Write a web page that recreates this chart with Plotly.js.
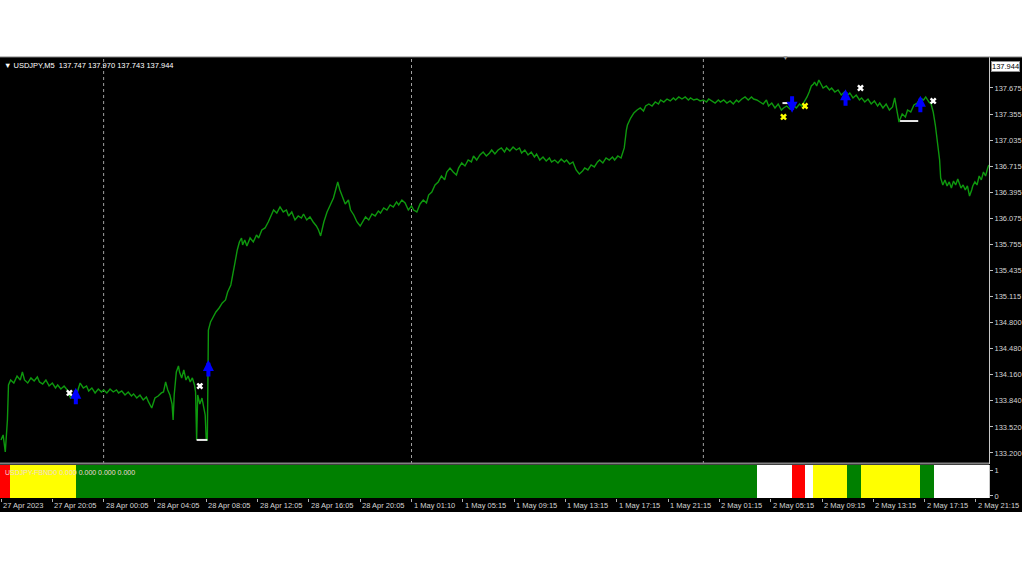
<!DOCTYPE html>
<html><head><meta charset="utf-8">
<script src="https://cdn.plot.ly/plotly-3.0.1.min.js"></script>
<style>html,body{margin:0;padding:0;background:#fff;}#chart{width:1024px;height:576px;}</style>
</head><body><div id="chart"></div>
<script>
// ---- data (5-minute bar index, price) ----
const barIdx = [0,2,4,6,7,9,12,15,18,20,22,25,28,31,34,36,39,42,45,48,51,53,56,59,62,65,67,70,72,74,77,80,82,85,88,91,94,96,99,102,105,108,110,113,116,119,122,124,127,130,133,136,138,141,144,147,150,152,154,156,158,160,161,162,164,166,167,169,171,173,175,177,179,181,182,183,184,186,188,190,191,192,193,194,
196,198,201,204,207,210,212,215,217,219,221,223,225,226,228,230,233,236,239,241,244,247,250,253,255,258,261,264,267,269,272,275,278,281,283,286,289,292,295,297,299,302,305,308,311,313,315,317,319,322,325,327,330,333,336,339,341,344,347,350,353,355,358,361,364,367,370,372,375,378,381,384,386,389,392,395,398,400,403,406,409,412,415,417,420,423,426,428,431,434,437,440,442,445,448,451,454,457,459,462,465,468,471,473,476,479,482,485,487,490,493,496,499,501,504,507,510,513,515,518,521,524,527,529,532,535,538,541,544,546,549,552,555,558,560,563,566,569,572,574,577,580,583,585,586,589,592,595,598,601,603,606,609,612,615,617,620,623,626,629,631,634,637,640,643,645,648,651,654,657,660,662,665,668,671,673,676,679,682,685,688,690,693,696,699,702,704,707,710,713,716,718,721,724,727,730,732,735,738,741,744,747,749,752,754,756,758,760,761,763,765,767,769,772,775,777,780,783,786,789,791,794,797,800,803,805,808,811,814,817,820,822,825,828,831,834,836,838,840,843,846,848,851,854,857,860,863,865,868,870,872,874,876,878,879,881,883,885,887,889,891,893,895,897,898,900,902,904,906,908,909,911,913,915,917,919,921,923,924];
const closePx = [133.360,133.421,133.212,133.605,134.034,134.095,134.058,134.144,134.095,134.193,134.095,134.058,134.120,134.083,134.132,134.071,134.046,134.095,134.022,134.058,133.997,134.034,133.985,134.022,133.973,133.874,133.899,133.850,133.973,134.058,133.997,134.022,133.960,133.997,133.936,133.985,133.948,133.973,133.936,133.985,133.948,133.973,133.936,133.960,133.911,133.948,133.899,133.924,133.874,133.911,133.850,133.887,133.826,133.752,133.874,133.899,133.936,133.948,134.071,133.973,133.911,133.801,133.605,133.911,134.193,134.267,134.193,134.120,134.218,134.095,134.144,134.071,134.120,134.034,133.948,133.360,133.911,133.801,133.874,133.703,133.666,133.360,133.360,134.708,
134.806,134.855,134.929,134.978,135.039,135.076,135.174,135.260,135.383,135.542,135.689,135.787,135.836,135.750,135.812,135.738,135.836,135.787,135.873,135.836,135.934,135.959,136.032,136.118,136.179,136.142,136.216,136.155,136.179,136.106,136.155,136.057,136.106,136.081,136.130,136.057,136.094,136.032,135.983,135.934,135.861,136.032,136.155,136.241,136.327,136.425,136.523,136.425,136.351,136.253,136.302,136.179,136.118,136.032,135.983,136.057,136.094,136.057,136.130,136.106,136.167,136.142,136.204,136.179,136.241,136.216,136.278,136.241,136.302,136.265,136.179,136.228,136.179,136.155,136.253,136.302,136.265,136.363,136.400,136.486,136.523,136.596,136.548,136.645,136.694,136.645,136.608,136.694,136.756,136.719,136.792,136.768,136.841,136.792,136.854,136.890,136.841,136.878,136.915,136.866,136.915,136.940,136.890,136.940,136.903,136.952,136.915,136.940,136.878,136.915,136.854,136.890,136.829,136.866,136.792,136.829,136.780,136.817,136.768,136.792,136.756,136.805,136.768,136.792,136.743,136.768,136.670,136.621,136.657,136.694,136.670,136.731,136.707,136.768,136.792,136.756,136.817,136.792,136.829,136.792,136.841,136.817,136.940,137.160,137.221,137.307,137.369,137.405,137.430,137.393,137.454,137.479,137.454,137.503,137.479,137.528,137.503,137.540,137.516,137.553,137.528,137.565,137.540,137.565,137.528,137.553,137.528,137.540,137.516,137.528,137.503,137.540,137.516,137.491,137.528,137.503,137.528,137.491,137.516,137.479,137.528,137.503,137.540,137.565,137.528,137.565,137.540,137.528,137.503,137.479,137.528,137.454,137.491,137.430,137.479,137.405,137.430,137.454,137.418,137.467,137.430,137.479,137.454,137.516,137.565,137.626,137.700,137.724,137.749,137.700,137.773,137.724,137.675,137.700,137.651,137.675,137.626,137.651,137.589,137.626,137.577,137.614,137.553,137.589,137.528,137.553,137.503,137.540,137.479,137.516,137.454,137.491,137.430,137.479,137.405,137.442,137.553,137.405,137.258,137.356,137.320,137.405,137.381,137.467,137.491,137.553,137.528,137.565,137.503,137.479,137.381,137.221,137.038,136.792,136.572,136.486,136.548,136.474,136.523,136.449,136.535,136.486,136.560,136.498,136.449,136.486,136.425,136.474,136.351,136.425,136.474,136.523,136.486,136.596,136.548,136.645,136.596,136.694,136.731];

const upArrowBars = [70, 194, 790, 860];
const upArrowPrices = [134.00, 134.34, 137.66, 137.58];
const downArrowBars = [740];
const downArrowPrices = [137.37];
const whiteCrossBars = [64, 186, 804, 872];
const whiteCrossPrices = [133.936, 134.021, 137.675, 137.516];
const yellowCrossBars = [732, 752];
const yellowCrossPrices = [137.32, 137.454];
const levelStart = [183, 841, 731];
const levelEnd = [193, 858, 742];
const levelPrice = [133.36, 137.27, 137.49];

const segStart = [-1, 8, 70, 707, 740, 752, 760, 791, 804, 860, 873];
const segEnd   = [8, 70, 707, 740, 752, 760, 791, 804, 860, 873, 925];
const segColor = ['#ff0000','#ffff00','#008000','#ffffff','#ff0000','#ffffff','#ffff00','#008000','#ffff00','#008000','#ffffff'];

const sepBars = [96, 384, 657];

const tickBars = [0,48,96,144,192,240,288,336,384,432,480,528,576,624,672,720,768,816,864,912];
const tickLabels = ['27 Apr 2023','27 Apr 20:05','28 Apr 00:05','28 Apr 04:05','28 Apr 08:05','28 Apr 12:05','28 Apr 16:05','28 Apr 20:05','1 May 01:10','1 May 05:15','1 May 09:15','1 May 13:15','1 May 17:15','1 May 21:15','2 May 01:15','2 May 05:15','2 May 09:15','2 May 13:15','2 May 17:15','2 May 21:15'];
const priceTicks = ['133.200','133.520','133.840','134.160','134.480','134.800','135.115','135.435','135.755','136.075','136.395','136.715','137.035','137.355','137.675'];
const symbolTitle = '\u25BC USDJPY,M5  137.747 137.970 137.743 137.944';
const lastPrice = 137.944;
const indicatorLabel = 'USDJPY-FBND0 0.000 0.000 0.000 0.000';

// ---- traces ----
const FONT = 'Liberation Sans, Arial, sans-serif';
const txtCol = '#d4d4d4';
const Y2R = [-0.08, 1.2];

const traces = [];
traces.push({
  type: 'bar', xaxis: 'x', yaxis: 'y2',
  x: segStart.map((s, i) => (s + segEnd[i]) / 2),
  width: segStart.map((s, i) => segEnd[i] - s),
  y: segStart.map(() => Y2R[1] - Y2R[0]), base: Y2R[0],
  marker: {color: segColor, line: {width: 0}},
  hoverinfo: 'skip', showlegend: false
});
traces.push({
  type: 'scatter', mode: 'lines', x: barIdx, y: closePx,
  line: {color: '#0e980e', width: 1.4}, showlegend: false, hoverinfo: 'skip'
});
const lvX = [], lvY = [];
levelStart.forEach((s, i) => { lvX.push(s, levelEnd[i], null); lvY.push(levelPrice[i], levelPrice[i], null); });
traces.push({type: 'scatter', mode: 'lines', x: lvX, y: lvY, line: {color: '#e8e8e8', width: 2}, showlegend: false, hoverinfo: 'skip'});
traces.push({type: 'scatter', mode: 'markers', x: whiteCrossBars, y: whiteCrossPrices,
  marker: {symbol: 'x', size: 6, color: '#ffffff', line: {width: 0}}, showlegend: false, hoverinfo: 'skip'});
traces.push({type: 'scatter', mode: 'markers', x: yellowCrossBars, y: yellowCrossPrices,
  marker: {symbol: 'x', size: 6, color: '#ffff00', line: {width: 0}}, showlegend: false, hoverinfo: 'skip'});

// ---- annotations ----
const ann = [];
upArrowBars.forEach((b, i) => ann.push({x: b, y: upArrowPrices[i], xref: 'x', yref: 'y', showarrow: true,
  ax: 0, ay: 18, arrowhead: 2, arrowsize: 0.55, arrowwidth: 4, arrowcolor: '#0000ff', text: ''}));
downArrowBars.forEach((b, i) => ann.push({x: b, y: downArrowPrices[i], xref: 'x', yref: 'y', showarrow: true,
  ax: 0, ay: -18, arrowhead: 2, arrowsize: 0.55, arrowwidth: 4, arrowcolor: '#0000ff', text: ''}));
tickBars.forEach((b, i) => ann.push({x: b, y: 0, xref: 'x', yref: 'paper', text: tickLabels[i], showarrow: false,
  xanchor: 'left', yanchor: 'top', xshift: 0, yshift: -1, font: {family: FONT, size: 7.5, color: txtCol}}));
ann.push({x: 0, y: 1, xref: 'paper', yref: 'paper', text: symbolTitle, showarrow: false, xanchor: 'left', yanchor: 'top',
  xshift: 2, yshift: -2, font: {family: FONT, size: 7.5, color: '#ffffff'}});
ann.push({x: 0, y: 1, xref: 'paper', yref: 'y2 domain', text: indicatorLabel, showarrow: false, xanchor: 'left', yanchor: 'top',
  xshift: 3, yshift: -2, font: {family: FONT, size: 7, color: '#f0d8d8'}});
ann.push({x: 1, y: lastPrice, xref: 'paper', yref: 'y', text: lastPrice.toFixed(3), showarrow: false, xanchor: 'left',
  xshift: 2, bgcolor: '#ffffff', bordercolor: '#909090', borderwidth: 1, borderpad: 0, font: {family: FONT, size: 7.5, color: '#000000'}});
ann.push({x: 0.8, y: 1, xref: 'paper', yref: 'paper', text: '\u25BC', showarrow: false, yanchor: 'bottom', yshift: -6,
  font: {family: FONT, size: 7, color: '#9a9a9a'}});

// ---- shapes ----
const shapes = [];
shapes.push({type: 'rect', xref: 'paper', yref: 'paper', x0: 0, x1: 1022/989, y0: -14/441, y1: 1, fillcolor: '#000000', line: {width: 0}, layer: 'below'});
sepBars.forEach(b => shapes.push({type: 'line', xref: 'x', yref: 'y domain', x0: b, x1: b, y0: 0, y1: 1,
  line: {color: '#a0a0a0', width: 1, dash: 'dot'}, layer: 'below'}));
shapes.push({type: 'line', xref: 'paper', yref: 'paper', x0: 0, x1: 1, y0: 34.5/441, y1: 34.5/441, line: {color: '#808080', width: 2}});
shapes.push({type: 'line', xref: 'paper', yref: 'paper', x0: 0, x1: 1022/989, y0: 1, y1: 1, line: {color: '#808080', width: 1}});

const layout = {
  width: 1024, height: 576,
  margin: {l: 0, r: 35, t: 57, b: 78, pad: 0},
  paper_bgcolor: '#ffffff', plot_bgcolor: '#000000',
  showlegend: false, bargap: 0, barmode: 'overlay',
  xaxis: {anchor: 'y2', range: [-0.94, 924.2], tickvals: tickBars, showticklabels: false, ticks: 'outside', ticklen: 3,
    tickcolor: '#b0b0b0', showgrid: false, zeroline: false, showline: false, fixedrange: true},
  yaxis: {domain: [34/441, 1], range: [133.065, 138.055], side: 'right', anchor: 'x',
    tickvals: priceTicks.map(Number), ticktext: priceTicks, ticks: 'outside', ticklen: 3, tickcolor: '#c0c0c0',
    tickfont: {family: FONT, size: 7.5, color: txtCol}, showgrid: false, zeroline: false,
    showline: true, linecolor: '#c8c8c8', linewidth: 1},
  yaxis2: {domain: [0, 33/441], range: Y2R, side: 'right', anchor: 'x', tickvals: [0, 1], ticktext: ['0', '1'],
    ticks: 'outside', ticklen: 3, tickcolor: '#c0c0c0', tickfont: {family: FONT, size: 7.5, color: txtCol},
    showgrid: false, zeroline: false, showline: true, linecolor: '#c8c8c8', linewidth: 1},
  annotations: ann, shapes: shapes
};
Plotly.newPlot('chart', traces, layout, {staticPlot: true, displayModeBar: false});
</script></body></html>
